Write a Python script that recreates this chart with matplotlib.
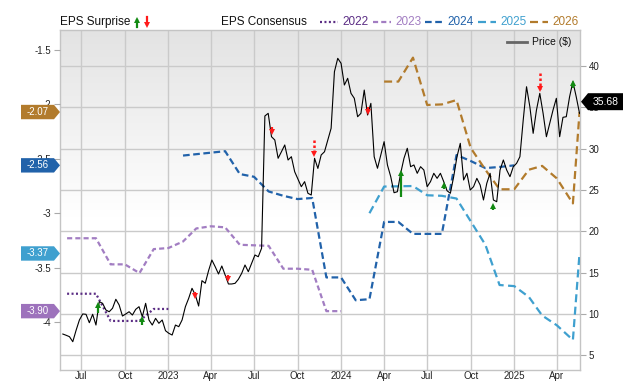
import numpy as np
import pandas as pd
import matplotlib
matplotlib.use('Agg')
import matplotlib.pyplot as plt
from matplotlib.lines import Line2D
from matplotlib.patches import Polygon
from matplotlib.colors import LinearSegmentedColormap
import matplotlib.transforms as mtransforms

plt.rcParams['font.family'] = ['Liberation Sans', 'DejaVu Sans']

# weekly price ($), first week starting 2022-05-23
price_start = '2022-05-23'
prices = [7.55, 7.40, 7.23, 6.62, 8.00, 9.25, 9.98, 9.94, 8.92, 9.94, 8.64, 11.47, 11.27, 10.46,
          10.25, 10.67, 11.76, 11.07, 9.73, 9.98, 10.25, 9.85, 10.54, 10.86, 9.65, 11.27, 9.25,
          8.64, 9.45, 8.85, 9.25, 7.95, 7.64, 7.43, 8.64, 8.44, 9.25, 10.86, 11.88,
          13.09, 12.28, 10.94, 14.01, 13.70, 15.22, 16.51, 15.70, 14.82, 15.79, 14.70, 13.61,
          13.61, 13.69, 14.18, 14.90, 15.91, 15.10, 16.11, 17.12, 16.91, 17.93, 33.95, 34.27,
          31.44, 31.04, 28.83, 29.62, 30.44, 28.62, 29.02, 27.20, 26.28, 25.39, 26.00, 24.59,
          24.38, 28.83, 27.60,
          29.23, 29.62, 31.04, 32.46, 39.31, 40.93, 40.33, 37.70, 38.51, 36.69, 36.09,
          33.86, 34.27, 37.09, 34.07, 35.48, 29.02, 27.62, 29.23, 30.84, 28.02, 26.60, 24.66,
          24.78, 27.01, 28.83, 30.04, 27.81, 28.02, 27.01, 27.81, 27.41, 25.39, 26.00, 27.01,
          26.40, 27.01, 26.00, 24.90,
          24.59, 26.60, 29.02, 30.64, 26.20, 27.01, 24.99, 25.39, 26.40, 25.59, 23.78,
          25.80, 27.01, 23.78, 23.57, 27.41, 28.62, 27.41, 26.60, 27.81, 28.22, 29.02, 33.46,
          37.49, 35.07, 31.85, 34.67, 36.69, 34.27, 31.44, 33.06, 34.67, 36.09, 31.44, 33.79,
          33.86, 36.28, 38.10, 36.28, 34.27]
last_price = 35.68

# EPS consensus by fiscal year
eps22_dates = ['2022-06-01', '2022-08-01', '2022-09-01', '2022-11-01', '2022-12-01', '2023-01-01']
eps22 = [-3.74, -3.74, -3.99, -3.99, -3.88, -3.88]

eps23_dates = ['2022-06-01', '2022-08-01', '2022-09-01', '2022-10-01', '2022-11-01', '2022-12-01',
               '2023-01-01', '2023-02-01', '2023-03-01', '2023-04-01', '2023-05-01', '2023-06-01',
               '2023-08-01', '2023-09-01', '2023-10-01', '2023-11-01', '2023-12-01', '2024-01-01']
eps23 = [-3.23, -3.23, -3.47, -3.47, -3.55, -3.33, -3.32, -3.26, -3.14, -3.12, -3.13, -3.29,
         -3.30, -3.51, -3.51, -3.52, -3.90, -3.90]

eps24_dates = ['2023-02-01', '2023-05-01', '2023-06-01', '2023-07-01', '2023-08-01', '2023-09-01',
               '2023-10-01', '2023-11-01', '2023-12-01', '2024-01-01', '2024-02-01', '2024-03-01',
               '2024-04-01', '2024-05-01', '2024-06-01', '2024-08-01', '2024-09-01', '2024-10-01',
               '2024-11-01', '2024-12-01', '2025-01-01']
eps24 = [-2.47, -2.43, -2.64, -2.665, -2.80, -2.84, -2.87, -2.86, -3.59, -3.59, -3.80, -3.79,
         -3.08, -3.08, -3.19, -3.19, -2.465, -2.52, -2.585, -2.575, -2.56]

eps25_dates = ['2024-03-01', '2024-04-01', '2024-06-01', '2024-07-01', '2024-08-01', '2024-09-01',
               '2024-11-01', '2024-12-01', '2025-01-01', '2025-02-01', '2025-03-01', '2025-04-01',
               '2025-05-05', '2025-05-19']
eps25 = [-3.00, -2.755, -2.75, -2.835, -2.84, -2.865, -3.29, -3.66, -3.67, -3.77, -3.94, -4.03,
         -4.165, -3.37]

eps26_dates = ['2024-04-01', '2024-05-01', '2024-06-01', '2024-07-01', '2024-08-01', '2024-09-01',
               '2024-10-01', '2024-11-01', '2024-12-01', '2025-01-01', '2025-02-01', '2025-03-01',
               '2025-04-01', '2025-05-05', '2025-05-19']
eps26 = [-1.79, -1.79, -1.57, -2.005, -2.00, -1.96, -2.40, -2.60, -2.78, -2.78, -2.60, -2.565,
         -2.68, -2.91, -2.07]

series_names = ['2022', '2023', '2024', '2025', '2026']
series_colors = ['#5b2d84', '#a27dc2', '#2162aa', '#3fa0cf', '#b27b2c']
tag_values = [-2.07, -2.56, -3.37, -3.90]
tag_colors = ['#b27b2c', '#2162aa', '#3fa0cf', '#9d72bc']

# EPS surprise arrows (price level from -> to)
surprise_dates = ['2022-08-06', '2022-11-06', '2023-02-26', '2023-05-07', '2023-08-07', '2023-11-05',
                  '2024-02-27', '2024-05-06', '2024-08-06', '2024-11-17', '2025-02-24', '2025-05-05']
surprise_from = [10.10, 8.64, 12.64, 14.70, 32.62, 31.04, 35.04, 24.14, 25.11, 22.57, 39.15, 37.34]
surprise_to = [11.43, 9.73, 11.79, 13.85, 31.65, 28.98, 34.07, 27.41, 25.96, 23.41, 36.85, 38.31]
surprise_dotted = [False, False, False, False, False, True, False, False, False, False, True, False]

tick_dates = ['2022-07-01', '2022-10-01', '2023-01-01', '2023-04-01', '2023-07-01', '2023-10-01',
              '2024-01-01', '2024-04-01', '2024-07-01', '2024-10-01', '2025-01-01', '2025-04-01']
tick_labels = ['Jul', 'Oct', '2023', 'Apr', 'Jul', 'Oct', '2024', 'Apr', 'Jul', 'Oct', '2025', 'Apr']
eps_ticks = [-4, -3.5, -3, -2.5, -2, -1.5]
eps_tick_labels = ['-4', '-3.5', '-3', '-2.5', '-2', '-1.5']
price_ticks = [5, 10, 15, 20, 25, 30, 35, 40]

W, H = 640, 382
GREEN = '#128a12'
RED = '#ff1a1a'
dash_styles = [(0, (0.9, 1.1)), (0, (2.3, 1.4)), (0, (3.0, 1.6)), (0, (3.6, 2.0)), (0, (3.6, 2.0))]


def fx(x):
    return x / W


def fy(y):
    return 1 - y / H


fig = plt.figure(figsize=(W / 100, H / 100), dpi=100)
ax = fig.add_axes([fx(60), fy(370), 520 / W, 340 / H])

# gradient background
grad = np.clip(1 - np.linspace(0, 1, 200) / 0.55, 0, 1).reshape(-1, 1)
cmap = LinearSegmentedColormap.from_list('bg', ['#ffffff', '#e3e3e3'])
ax.imshow(grad, extent=(0, 1, 0, 1), transform=ax.transAxes, cmap=cmap, vmin=0, vmax=1,
          aspect='auto', zorder=-1, interpolation='bilinear')

xmin, xmax = pd.Timestamp('2022-05-17'), pd.Timestamp('2025-05-20')
price_lim = (3.196, 44.36)
eps_lim = (-4.441, -1.316)

# twins: EPS axis (left ticks) and top layer for price
ax_eps = ax.twinx()
ax_top = ax.twinx()

ax.set_xlim(xmin, xmax)
ax.set_ylim(*price_lim)
ax.set_xticks(pd.to_datetime(tick_dates))
ax.set_xticklabels(tick_labels)
ax.yaxis.tick_right()
ax.set_yticks(price_ticks)
ax.set_yticklabels([str(t) for t in price_ticks])
ax.grid(True, color='#cacaca', lw=1)
ax.set_axisbelow(True)
ax.tick_params(axis='x', length=0, pad=1, labelsize=7, colors='#222')
ax.tick_params(axis='y', which='both', right=True, left=False, labelright=True, labelleft=False,
               length=4, width=0.8, color='#aaaaaa', pad=2, labelsize=7, labelcolor='#222')
for s in ax.spines.values():
    s.set_color('#c4c4c4')
    s.set_linewidth(1)

ax_eps.yaxis.tick_left()
ax_eps.set_ylim(*eps_lim)
ax_eps.set_yticks(eps_ticks)
ax_eps.set_yticklabels(eps_tick_labels)
ax_eps.tick_params(axis='y', length=4, width=0.8, color='#aaaaaa', pad=2, labelsize=7, labelcolor='#222')
for s in ax_eps.spines.values():
    s.set_visible(False)

eps_sets = [(eps22_dates, eps22), (eps23_dates, eps23), (eps24_dates, eps24),
            (eps25_dates, eps25), (eps26_dates, eps26)]
for (d, v), c, ls in zip(eps_sets, series_colors, dash_styles):
    ax_eps.plot(pd.to_datetime(d), v, color=c, lw=1.6, linestyle=ls, dash_capstyle='butt')

# value tags on the left
tb = mtransforms.blended_transform_factory(ax_eps.transAxes, ax_eps.transData)
h = 7.2 / 108.8
for v, c in zip(tag_values, tag_colors):
    x0, x1, xt = -39 / 520, -6 / 520, 0.0
    poly = Polygon([(x0, v - h), (x1, v - h), (xt, v), (x1, v + h), (x0, v + h)],
                   closed=True, transform=tb, facecolor=c, edgecolor='none', clip_on=False, zorder=10)
    ax_eps.add_patch(poly)
    ax_eps.text(-22 / 520, v, f'{v:.2f}', transform=tb, color='white', fontsize=7,
                ha='center', va='center', zorder=11, clip_on=False)

# price layer
ax_top.set_ylim(*price_lim)
ax_top.set_yticks([])
ax_top.tick_params(axis='y', left=False, right=False)
for s in ax_top.spines.values():
    s.set_visible(False)

dates = pd.date_range(price_start, periods=len(prices), freq='7D')
ax_top.plot(dates, prices, color='black', lw=0.8, zorder=3)

# surprise arrows
ppx = (price_lim[1] - price_lim[0]) / 340
head = 3.1 * ppx
for d, y0, y1, dotted in zip(pd.to_datetime(surprise_dates), surprise_from, surprise_to, surprise_dotted):
    up = y1 > y0
    c = GREEN if up else RED
    hc = y1 - head if up else y1 + head
    ax_top.plot([d, d], [y0, hc], color=c, lw=1.6 if not dotted else 1.8,
                linestyle=(0, (1, 1)) if dotted else '-', zorder=5, solid_capstyle='butt')
    ax_top.plot([d], [hc], marker='^' if up else 'v', ms=4.6, color=c, ls='none', zorder=6,
                markeredgewidth=0)

# last price tag
tr = mtransforms.blended_transform_factory(ax_top.transAxes, ax_top.transData)
hp = 8.5 / 8.26
pts = [(1 + 1 / 520, last_price), (1 + 8 / 520, last_price + hp), (1 + 43 / 520, last_price + hp),
       (1 + 43 / 520, last_price - hp), (1 + 8 / 520, last_price - hp)]
ax_top.add_patch(Polygon(pts, closed=True, transform=tr, facecolor='black', edgecolor='none',
                         clip_on=False, zorder=10))
ax_top.text(1 + 25.5 / 520, last_price, f'{last_price:.2f}', transform=tr, color='white',
            fontsize=7.5, ha='center', va='center', zorder=11, clip_on=False)

# header legend
fig.text(fx(60), fy(22), 'EPS Surprise', fontsize=8.5, va='center', ha='left', color='#111')
fig.add_artist(Line2D([fx(137)] * 2, [fy(27), fy(20)], color=GREEN, lw=1.6))
fig.add_artist(Line2D([fx(137)], [fy(19.5)], marker='^', ms=4.6, color=GREEN, ls='none', markeredgewidth=0))
fig.add_artist(Line2D([fx(147)] * 2, [fy(17), fy(24)], color=RED, lw=1.6))
fig.add_artist(Line2D([fx(147)], [fy(24.5)], marker='v', ms=4.6, color=RED, ls='none', markeredgewidth=0))
fig.text(fx(221), fy(22), 'EPS Consensus', fontsize=8.5, va='center', ha='left', color='#111')

leg_x = [320, 373, 425, 478, 530]
for x0, name, c, ls in zip(leg_x, series_names, series_colors, dash_styles):
    fig.add_artist(Line2D([fx(x0), fx(x0 + 18)], [fy(22), fy(22)], color=c, lw=1.6, linestyle=ls,
                          dash_capstyle='butt'))
    fig.text(fx(x0 + 22), fy(22), name, fontsize=8.5, va='center', ha='left', color=c)

fig.add_artist(Line2D([fx(507), fx(527)], [fy(42), fy(42)], color='#666666', lw=2))
fig.text(fx(532), fy(42), 'Price ($)', fontsize=7.5, va='center', ha='left', color='#111')

fig.savefig('out.png', dpi=100)
